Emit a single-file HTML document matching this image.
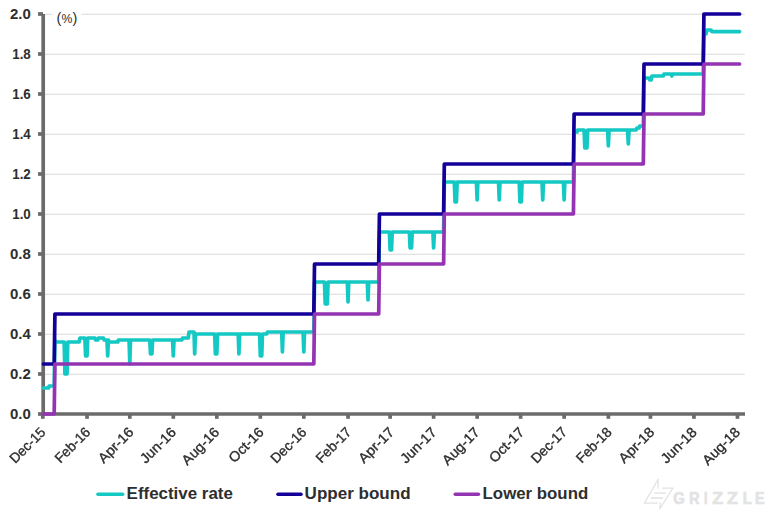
<!DOCTYPE html>
<html><head><meta charset="utf-8"><style>
html,body{margin:0;padding:0;background:#fff;}
body{width:768px;height:514px;overflow:hidden;position:relative;}
svg{position:absolute;left:0;top:0;display:block;}
text{font-family:"Liberation Sans",sans-serif;}
</style></head><body>
<svg width="768" height="514" viewBox="0 0 768 514">
<rect x="0" y="0" width="768" height="514" fill="#fff"/>
<g stroke="#d9d9d9" stroke-width="1.05" fill="none"><line x1="45" y1="14.25" x2="744.8" y2="14.25"/><line x1="45" y1="54.25" x2="744.8" y2="54.25"/><line x1="45" y1="94.25" x2="744.8" y2="94.25"/><line x1="45" y1="134.25" x2="744.8" y2="134.25"/><line x1="45" y1="174.25" x2="744.8" y2="174.25"/><line x1="45" y1="214.25" x2="744.8" y2="214.25"/><line x1="45" y1="254.25" x2="744.8" y2="254.25"/><line x1="45" y1="294.25" x2="744.8" y2="294.25"/><line x1="45" y1="334.25" x2="744.8" y2="334.25"/><line x1="45" y1="374.25" x2="744.8" y2="374.25"/></g>
<rect x="52" y="8" width="29.5" height="14" fill="#fff"/>
<text y="23.3" font-size="14.5" fill="#2e2e2e"><tspan x="56.4">(</tspan><tspan x="61.6" font-size="12.2" dy="-0.6">%</tspan><tspan x="72.4" dy="0.6">)</tspan></text>
<g stroke="#6b6b6b" stroke-width="3.7" fill="none">
<line x1="38" y1="14.0" x2="43" y2="14.0"/><line x1="38" y1="54.0" x2="43" y2="54.0"/><line x1="38" y1="94.0" x2="43" y2="94.0"/><line x1="38" y1="134.0" x2="43" y2="134.0"/><line x1="38" y1="174.0" x2="43" y2="174.0"/><line x1="38" y1="214.0" x2="43" y2="214.0"/><line x1="38" y1="254.0" x2="43" y2="254.0"/><line x1="38" y1="294.0" x2="43" y2="294.0"/><line x1="38" y1="334.0" x2="43" y2="334.0"/><line x1="38" y1="374.0" x2="43" y2="374.0"/><line x1="38" y1="414.0" x2="43" y2="414.0"/>
<line x1="43.2" y1="14" x2="43.2" y2="416"/>
<line x1="41.5" y1="414" x2="745" y2="414"/>
<line x1="42.80" y1="414" x2="42.80" y2="418.8"/><line x1="87.02" y1="414" x2="87.02" y2="418.8"/><line x1="129.81" y1="414" x2="129.81" y2="418.8"/><line x1="173.32" y1="414" x2="173.32" y2="418.8"/><line x1="216.82" y1="414" x2="216.82" y2="418.8"/><line x1="260.33" y1="414" x2="260.33" y2="418.8"/><line x1="303.83" y1="414" x2="303.83" y2="418.8"/><line x1="348.05" y1="414" x2="348.05" y2="418.8"/><line x1="390.13" y1="414" x2="390.13" y2="418.8"/><line x1="433.63" y1="414" x2="433.63" y2="418.8"/><line x1="477.14" y1="414" x2="477.14" y2="418.8"/><line x1="520.64" y1="414" x2="520.64" y2="418.8"/><line x1="564.15" y1="414" x2="564.15" y2="418.8"/><line x1="608.37" y1="414" x2="608.37" y2="418.8"/><line x1="650.45" y1="414" x2="650.45" y2="418.8"/><line x1="693.95" y1="414" x2="693.95" y2="418.8"/><line x1="737.46" y1="414" x2="737.46" y2="418.8"/>
</g>
<g font-size="14" font-weight="bold" fill="#2e2e2e" text-anchor="end"><text x="30.8" y="18.7" textLength="20.8" lengthAdjust="spacingAndGlyphs">2.0</text><text x="30.8" y="58.7" textLength="18.6" lengthAdjust="spacingAndGlyphs">1.8</text><text x="30.8" y="98.7" textLength="18.6" lengthAdjust="spacingAndGlyphs">1.6</text><text x="30.8" y="138.7" textLength="18.6" lengthAdjust="spacingAndGlyphs">1.4</text><text x="30.8" y="178.7" textLength="18.6" lengthAdjust="spacingAndGlyphs">1.2</text><text x="30.8" y="218.7" textLength="18.6" lengthAdjust="spacingAndGlyphs">1.0</text><text x="30.8" y="258.7" textLength="20.8" lengthAdjust="spacingAndGlyphs">0.8</text><text x="30.8" y="298.7" textLength="20.8" lengthAdjust="spacingAndGlyphs">0.6</text><text x="30.8" y="338.7" textLength="20.8" lengthAdjust="spacingAndGlyphs">0.4</text><text x="30.8" y="378.7" textLength="20.8" lengthAdjust="spacingAndGlyphs">0.2</text><text x="30.8" y="418.7" textLength="20.8" lengthAdjust="spacingAndGlyphs">0.0</text></g>
<g font-size="14" fill="#2e2e2e" stroke="#2e2e2e" stroke-width="0.35" text-anchor="end" style="filter:grayscale(1)"><text x="46.40" y="433.00" transform="rotate(-45 46.40 433.00)" textLength="44.0" lengthAdjust="spacingAndGlyphs">Dec-15</text><text x="91.22" y="433.00" transform="rotate(-45 91.22 433.00)" textLength="43.6" lengthAdjust="spacingAndGlyphs">Feb-16</text><text x="134.61" y="433.00" transform="rotate(-45 134.61 433.00)" textLength="43.8" lengthAdjust="spacingAndGlyphs">Apr-16</text><text x="177.02" y="433.00" transform="rotate(-45 177.02 433.00)" textLength="44.2" lengthAdjust="spacingAndGlyphs">Jun-16</text><text x="220.22" y="433.00" transform="rotate(-45 220.22 433.00)" textLength="46.5" lengthAdjust="spacingAndGlyphs">Aug-16</text><text x="264.73" y="433.00" transform="rotate(-45 264.73 433.00)" textLength="43.0" lengthAdjust="spacingAndGlyphs">Oct-16</text><text x="307.43" y="433.00" transform="rotate(-45 307.43 433.00)" textLength="44.0" lengthAdjust="spacingAndGlyphs">Dec-16</text><text x="352.25" y="433.00" transform="rotate(-45 352.25 433.00)" textLength="43.6" lengthAdjust="spacingAndGlyphs">Feb-17</text><text x="394.93" y="433.00" transform="rotate(-45 394.93 433.00)" textLength="43.8" lengthAdjust="spacingAndGlyphs">Apr-17</text><text x="437.33" y="433.00" transform="rotate(-45 437.33 433.00)" textLength="44.2" lengthAdjust="spacingAndGlyphs">Jun-17</text><text x="480.54" y="433.00" transform="rotate(-45 480.54 433.00)" textLength="46.5" lengthAdjust="spacingAndGlyphs">Aug-17</text><text x="525.04" y="433.00" transform="rotate(-45 525.04 433.00)" textLength="43.0" lengthAdjust="spacingAndGlyphs">Oct-17</text><text x="567.75" y="433.00" transform="rotate(-45 567.75 433.00)" textLength="44.0" lengthAdjust="spacingAndGlyphs">Dec-17</text><text x="612.57" y="433.00" transform="rotate(-45 612.57 433.00)" textLength="43.6" lengthAdjust="spacingAndGlyphs">Feb-18</text><text x="655.25" y="433.00" transform="rotate(-45 655.25 433.00)" textLength="43.8" lengthAdjust="spacingAndGlyphs">Apr-18</text><text x="697.65" y="433.00" transform="rotate(-45 697.65 433.00)" textLength="44.2" lengthAdjust="spacingAndGlyphs">Jun-18</text><text x="740.86" y="433.00" transform="rotate(-45 740.86 433.00)" textLength="46.5" lengthAdjust="spacingAndGlyphs">Aug-18</text></g>
<g fill="none" stroke-width="3.7" stroke-linejoin="round" stroke-linecap="round">
<path d="M43.50 388.00 L48.49 388.00 L49.21 386.00 L54.20 386.00 L54.91 340.00 L55.62 342.00 L64.18 342.00 L64.90 374.00 L67.04 374.00 L67.75 342.00 L79.16 342.00 L79.87 338.00 L84.87 338.00 L85.58 356.00 L87.01 356.00 L87.72 338.00 L94.85 338.00 L95.56 340.00 L97.70 340.00 L98.42 338.00 L103.41 338.00 L104.12 340.00 L106.97 340.00 L107.69 356.00 L108.40 340.00 L109.11 342.00 L117.67 342.00 L118.39 340.00 L129.08 340.00 L129.80 364.00 L130.51 340.00 L149.77 340.00 L150.48 354.00 L151.91 354.00 L152.62 340.00 L172.59 340.00 L173.30 356.00 L174.02 340.00 L181.86 340.00 L182.57 338.00 L188.28 338.00 L188.99 332.00 L193.99 332.00 L194.70 354.00 L195.41 334.00 L214.67 334.00 L215.38 354.00 L216.81 354.00 L217.52 334.00 L238.20 334.00 L238.92 354.00 L239.63 334.00 L259.60 334.00 L260.31 356.00 L261.74 356.00 L262.45 334.00 L266.73 334.00 L267.44 332.00 L281.71 332.00 L282.42 352.00 L283.14 332.00 L303.10 332.00 L303.82 352.00 L304.53 332.00 L313.80 332.00 L314.52 282.00 L324.50 282.00 L325.21 304.00 L327.35 304.00 L328.07 282.00 L347.32 282.00 L348.04 302.00 L348.75 282.00 L367.29 282.00 L368.01 300.00 L368.72 282.00 L378.70 282.00 L379.42 232.00 L389.40 232.00 L390.12 250.00 L391.54 250.00 L392.25 232.00 L409.37 232.00 L410.08 248.00 L411.51 248.00 L412.22 232.00 L432.91 232.00 L433.62 248.00 L434.33 232.00 L443.61 232.00 L444.32 182.00 L454.30 182.00 L455.02 202.00 L456.44 202.00 L457.16 182.00 L476.41 182.00 L477.13 200.00 L477.84 182.00 L498.52 182.00 L499.23 200.00 L499.95 182.00 L519.20 182.00 L519.92 202.00 L521.34 202.00 L522.06 182.00 L542.03 182.00 L542.74 200.00 L543.45 182.00 L563.42 182.00 L564.14 200.00 L564.85 182.00 L573.41 182.00 L574.12 132.00 L576.97 132.00 L577.69 130.00 L584.11 130.00 L584.82 148.00 L586.96 148.00 L587.67 130.00 L607.64 130.00 L608.35 146.00 L609.07 130.00 L627.61 130.00 L628.32 144.00 L629.04 130.00 L636.17 130.00 L636.88 128.00 L639.02 128.00 L639.74 126.00 L643.30 126.00 L644.01 78.00 L649.01 78.00 L649.72 80.00 L651.15 80.00 L651.86 76.00 L663.27 76.00 L663.98 74.00 L671.12 74.00 L671.83 76.00 L672.54 74.00 L703.21 74.00 L703.92 34.00 L706.06 34.00 L706.78 30.00 L711.06 30.00 L711.77 31.60 L739.58 31.60" stroke="#14c8c4"/>
<path d="M43.50 364.00 L54.20 364.00 L54.91 314.00 L313.80 314.00 L314.52 264.00 L378.70 264.00 L379.42 214.00 L443.61 214.00 L444.32 164.00 L573.41 164.00 L574.12 114.00 L643.30 114.00 L644.01 64.00 L703.21 64.00 L703.92 14.00 L739.58 14.00" stroke="#130099"/>
<path d="M43.50 414.00 L54.20 414.00 L54.91 364.00 L313.80 364.00 L314.52 314.00 L378.70 314.00 L379.42 264.00 L443.61 264.00 L444.32 214.00 L573.41 214.00 L574.12 164.00 L643.30 164.00 L644.01 114.00 L703.21 114.00 L703.92 64.00 L739.58 64.00" stroke="#9434b2"/>
</g>
<g stroke-width="3.6" stroke-linecap="round">
<line x1="98" y1="494.3" x2="122.6" y2="494.3" stroke="#14c8c4"/>
<line x1="278" y1="494.3" x2="301" y2="494.3" stroke="#130099"/>
<line x1="455.3" y1="494.3" x2="478.4" y2="494.3" stroke="#9434b2"/>
</g>
<g font-size="16.5" font-weight="bold" fill="#2e2e2e">
<text x="126.6" y="499" textLength="106.3" lengthAdjust="spacingAndGlyphs">Effective rate</text>
<text x="304.6" y="499" textLength="106" lengthAdjust="spacingAndGlyphs">Upper bound</text>
<text x="482.6" y="499" textLength="105.6" lengthAdjust="spacingAndGlyphs">Lower bound</text>
</g>
<g fill="none" stroke="#e4e4e4" stroke-width="1.3" stroke-linecap="round" stroke-linejoin="round">
<path d="M657.9 488.1 L658.3 479.2 L644.3 503.2 L657.6 503.2"/>
<path d="M660.2 502.8 L659.8 508.8 L672.8 488.1 L662.4 488.1"/>
<path d="M654.6 493.1 L665.7 493.1 M651.3 498 L662.4 498" stroke="#dedee6"/>
</g>
<g font-size="15.6" font-weight="bold" fill="#e3e3e3" stroke="#e3e3e3" stroke-width="0.7"><text x="673.3" y="503.5" textLength="11.6" lengthAdjust="spacingAndGlyphs">G</text><text x="689.3" y="503.5" textLength="10.2" lengthAdjust="spacingAndGlyphs">R</text><text x="703.9" y="503.5" textLength="3.4" lengthAdjust="spacingAndGlyphs">I</text><text x="712.2" y="503.5" textLength="10.9" lengthAdjust="spacingAndGlyphs">Z</text><text x="726.9" y="503.5" textLength="10.9" lengthAdjust="spacingAndGlyphs">Z</text><text x="742.8" y="503.5" textLength="9.0" lengthAdjust="spacingAndGlyphs">L</text><text x="755.0" y="503.5" textLength="9.6" lengthAdjust="spacingAndGlyphs">E</text></g>
</svg>
</body></html>
